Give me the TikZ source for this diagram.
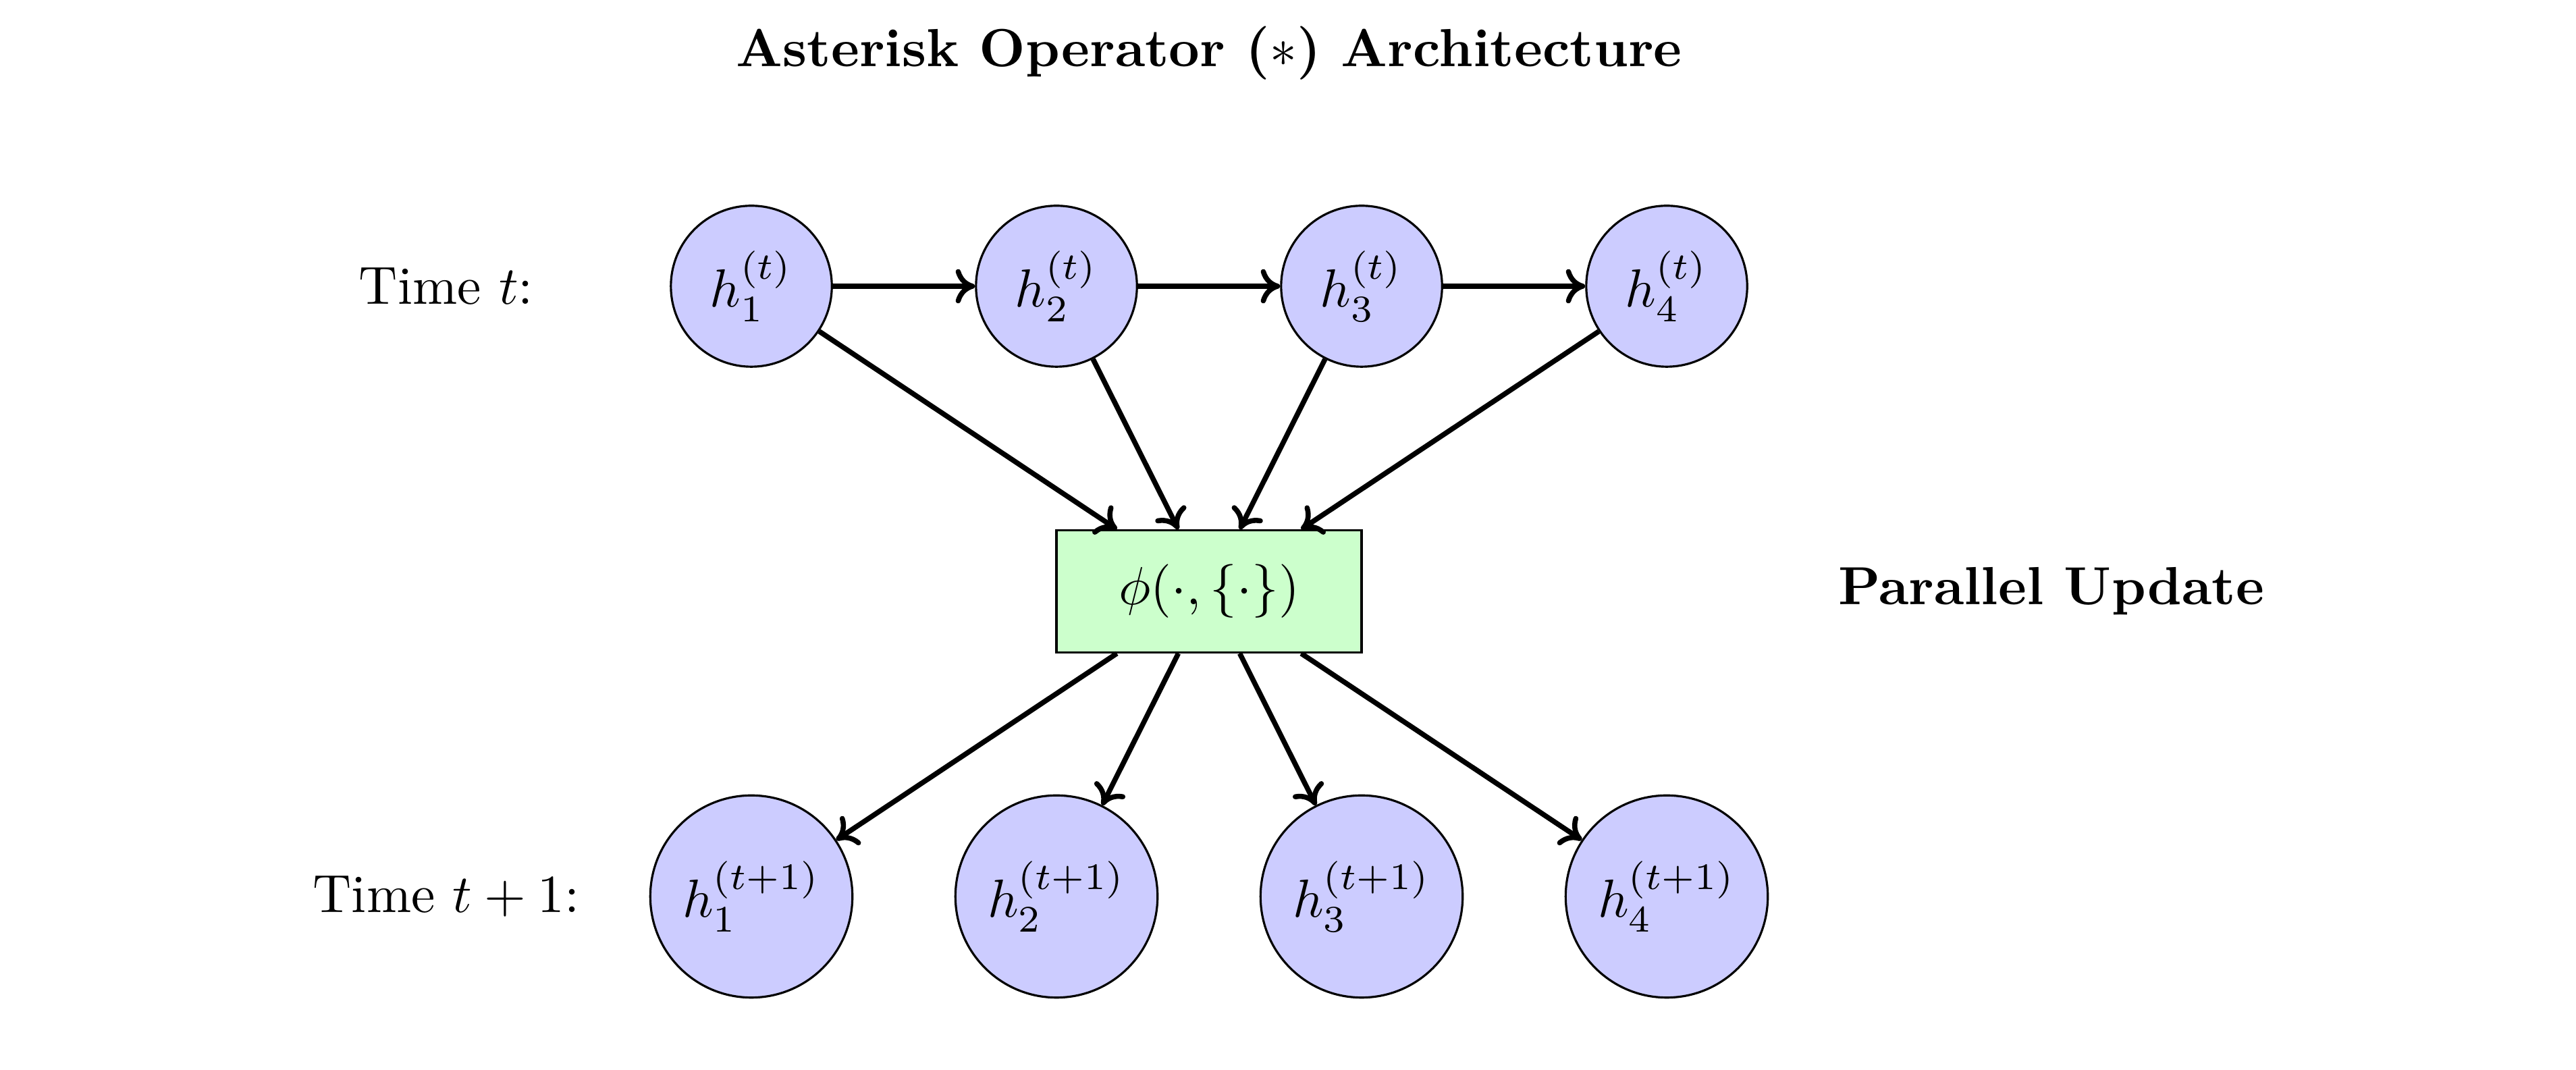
\documentclass[tikz,border=0pt]{standalone}
\usetikzlibrary{calc,arrows.meta}
\begin{document}
\begin{tikzpicture}[
  stateA/.style={circle,draw,fill=blue!20,inner sep=0pt,minimum size=1.055cm},
  stateB/.style={circle,draw,fill=blue!20,inner sep=0pt,minimum size=1.325cm},
  opbox/.style={rectangle,draw,fill=green!20,minimum width=2cm,minimum height=0.8cm,inner sep=0pt},
  conn/.style={-{To[length=3.6pt,width=6.4pt]},line width=0.95pt},
  lbl/.style={inner sep=0pt}
]
\useasboundingbox (-7.925,-3.133) rectangle (8.96,3.876);
\node[lbl,font=\bfseries] (title) at (0,3.53) {Asterisk Operator ($\ast$) Architecture};
\node[lbl] (lt) at (-5,2) {Time $t$:};
\node[lbl] (lt1) at (-5,-2) {Time $t+1$:};
\node[lbl,font=\bfseries] (pu) at (5.52,0) {Parallel Update};
\node[opbox] (phi) at (0,0) {$\phi(\cdot,\{\cdot\})$};
\foreach \i/\x in {1/-3,2/-1,3/1,4/3}{
  \node[stateA] (a\i) at (\x,2) {$h_{\i}^{(t)}$};
  \node[stateB] (b\i) at (\x,-2) {$h_{\i}^{(t+1)}$};
}
\foreach \i/\f in {1/0.2,2/0.4,3/0.6,4/0.8}{
  \coordinate (n\i) at ($(phi.north west)!\f!(phi.north east)$);
  \coordinate (s\i) at ($(phi.south west)!\f!(phi.south east)$);
  \draw[conn] (a\i) -- (n\i);
  \draw[conn] (s\i) -- (b\i);
}
\draw[conn] (a1) -- (a2);
\draw[conn] (a2) -- (a3);
\draw[conn] (a3) -- (a4);
\end{tikzpicture}
\end{document}
